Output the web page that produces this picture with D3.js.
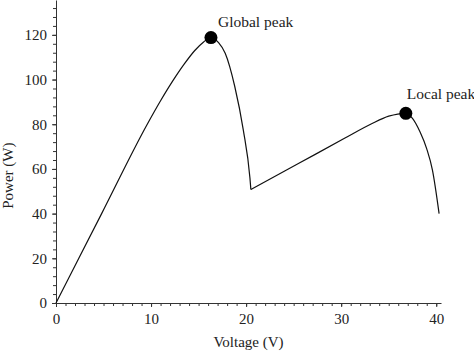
<!DOCTYPE html>
<html>
<head>
<meta charset="utf-8">
<script src="https://cdn.jsdelivr.net/npm/d3@7"></script>
<style>
  body { margin: 0; background: #fff; }
  svg { display: block; font-family: "Liberation Serif", "DejaVu Serif", serif; }
</style>
</head>
<body>
<script>
// P-V curve: voltage (V) and power (W)
let voltage = [0, 4.8, 9.6, 11.0, 12.3, 13.5, 14.6, 15.5, 16.3, 17.1, 17.8, 18.8, 19.7, 20.4, 20.5,
               25.5, 30.4, 33.2, 35.0, 36.8, 37.5, 38.3, 39.0, 39.6, 40.3];
let power   = [0, 40, 80, 90.5, 99.5, 107, 113, 116.7, 118.8, 116.5, 111.8, 97, 77.5, 56, 50.8,
               62.4, 73.8, 80.2, 83.6, 84.9, 82.6, 76.5, 69, 59.5, 40];
// index where the curve has its sharp corner
let cornerIndex = 14;

let peakLabels = ["Global peak", "Local peak"];
let peakVoltage = [16.3, 36.8];
let peakPower = [118.8, 84.9];

let xTicks = [0, 10, 20, 30, 40];
let yTicks = [0, 20, 40, 60, 80, 100, 120];

let width = 474;
let height = 353;
let margin = { top: 0, right: 33, bottom: 50, left: 56 };

let svg = d3.select("body").append("svg")
    .attr("width", width)
    .attr("height", height);

let x = d3.scaleLinear()
    .domain([0, 40.5])
    .range([margin.left, width - margin.right]);

let y = d3.scaleLinear()
    .domain([0, 135.6])
    .range([height - margin.bottom, margin.top]);

let font = 15;

// minor ticks
svg.append("g")
    .attr("transform", `translate(0,${y(0)})`)
    .call(d3.axisBottom(x).tickValues(d3.range(0, 41, 1)).tickSize(3).tickFormat("").tickSizeOuter(0))
    .call(g => g.select(".domain").remove());
svg.append("g")
    .attr("transform", `translate(${x(0)},0)`)
    .call(d3.axisLeft(y).tickValues(d3.range(0, 136, 4)).tickSize(3).tickFormat("").tickSizeOuter(0))
    .call(g => g.select(".domain").remove());

// major axes
let xAxis = svg.append("g")
    .attr("transform", `translate(0,${y(0)})`)
    .call(d3.axisBottom(x).tickValues(xTicks).tickSize(4).tickPadding(6).tickSizeOuter(0));
xAxis.selectAll("text").attr("font-size", font).attr("font-family", "Liberation Serif").attr("fill", "#222");

let yAxis = svg.append("g")
    .attr("transform", `translate(${x(0)},0)`)
    .call(d3.axisLeft(y).tickValues(yTicks).tickSize(4).tickPadding(5).tickSizeOuter(0));
yAxis.selectAll("text").attr("font-size", font).attr("font-family", "Liberation Serif").attr("fill", "#222");

svg.selectAll(".domain, .tick line").attr("stroke", "#333");

// axis titles
svg.append("text")
    .attr("x", (x(0) + x(40.5)) / 2)
    .attr("y", 347)
    .attr("text-anchor", "middle")
    .attr("font-size", font)
    .attr("fill", "#222")
    .text("Voltage (V)");

svg.append("text")
    .attr("transform", `translate(13,${y(57)}) rotate(-90)`)
    .attr("text-anchor", "middle")
    .attr("font-size", font)
    .attr("fill", "#222")
    .text("Power (W)");

// curve, drawn in two pieces so the corner stays sharp
let points = voltage.map((v, i) => ({ v: v, p: power[i] }));
let line = d3.line()
    .x(d => x(d.v))
    .y(d => y(d.p))
    .curve(d3.curveMonotoneX);

[points.slice(0, cornerIndex + 1), points.slice(cornerIndex)].forEach(seg => {
  svg.append("path")
      .datum(seg)
      .attr("fill", "none")
      .attr("stroke", "#111")
      .attr("stroke-width", 1.2)
      .attr("d", line);
});

// peaks
let peaks = peakLabels.map((l, i) => ({ label: l, v: peakVoltage[i], p: peakPower[i] }));
let labelOffset = [[7, -11], [1, -14]];

svg.selectAll("circle.peak")
    .data(peaks)
    .join("circle")
    .attr("class", "peak")
    .attr("cx", d => x(d.v))
    .attr("cy", d => y(d.p))
    .attr("r", 6.5)
    .attr("fill", "#000");

svg.selectAll("text.peak")
    .data(peaks)
    .join("text")
    .attr("class", "peak")
    .attr("x", (d, i) => x(d.v) + labelOffset[i][0])
    .attr("y", (d, i) => y(d.p) + labelOffset[i][1])
    .attr("font-size", 15.5)
    .attr("fill", "#222")
    .text(d => d.label);
</script>
</body>
</html>
